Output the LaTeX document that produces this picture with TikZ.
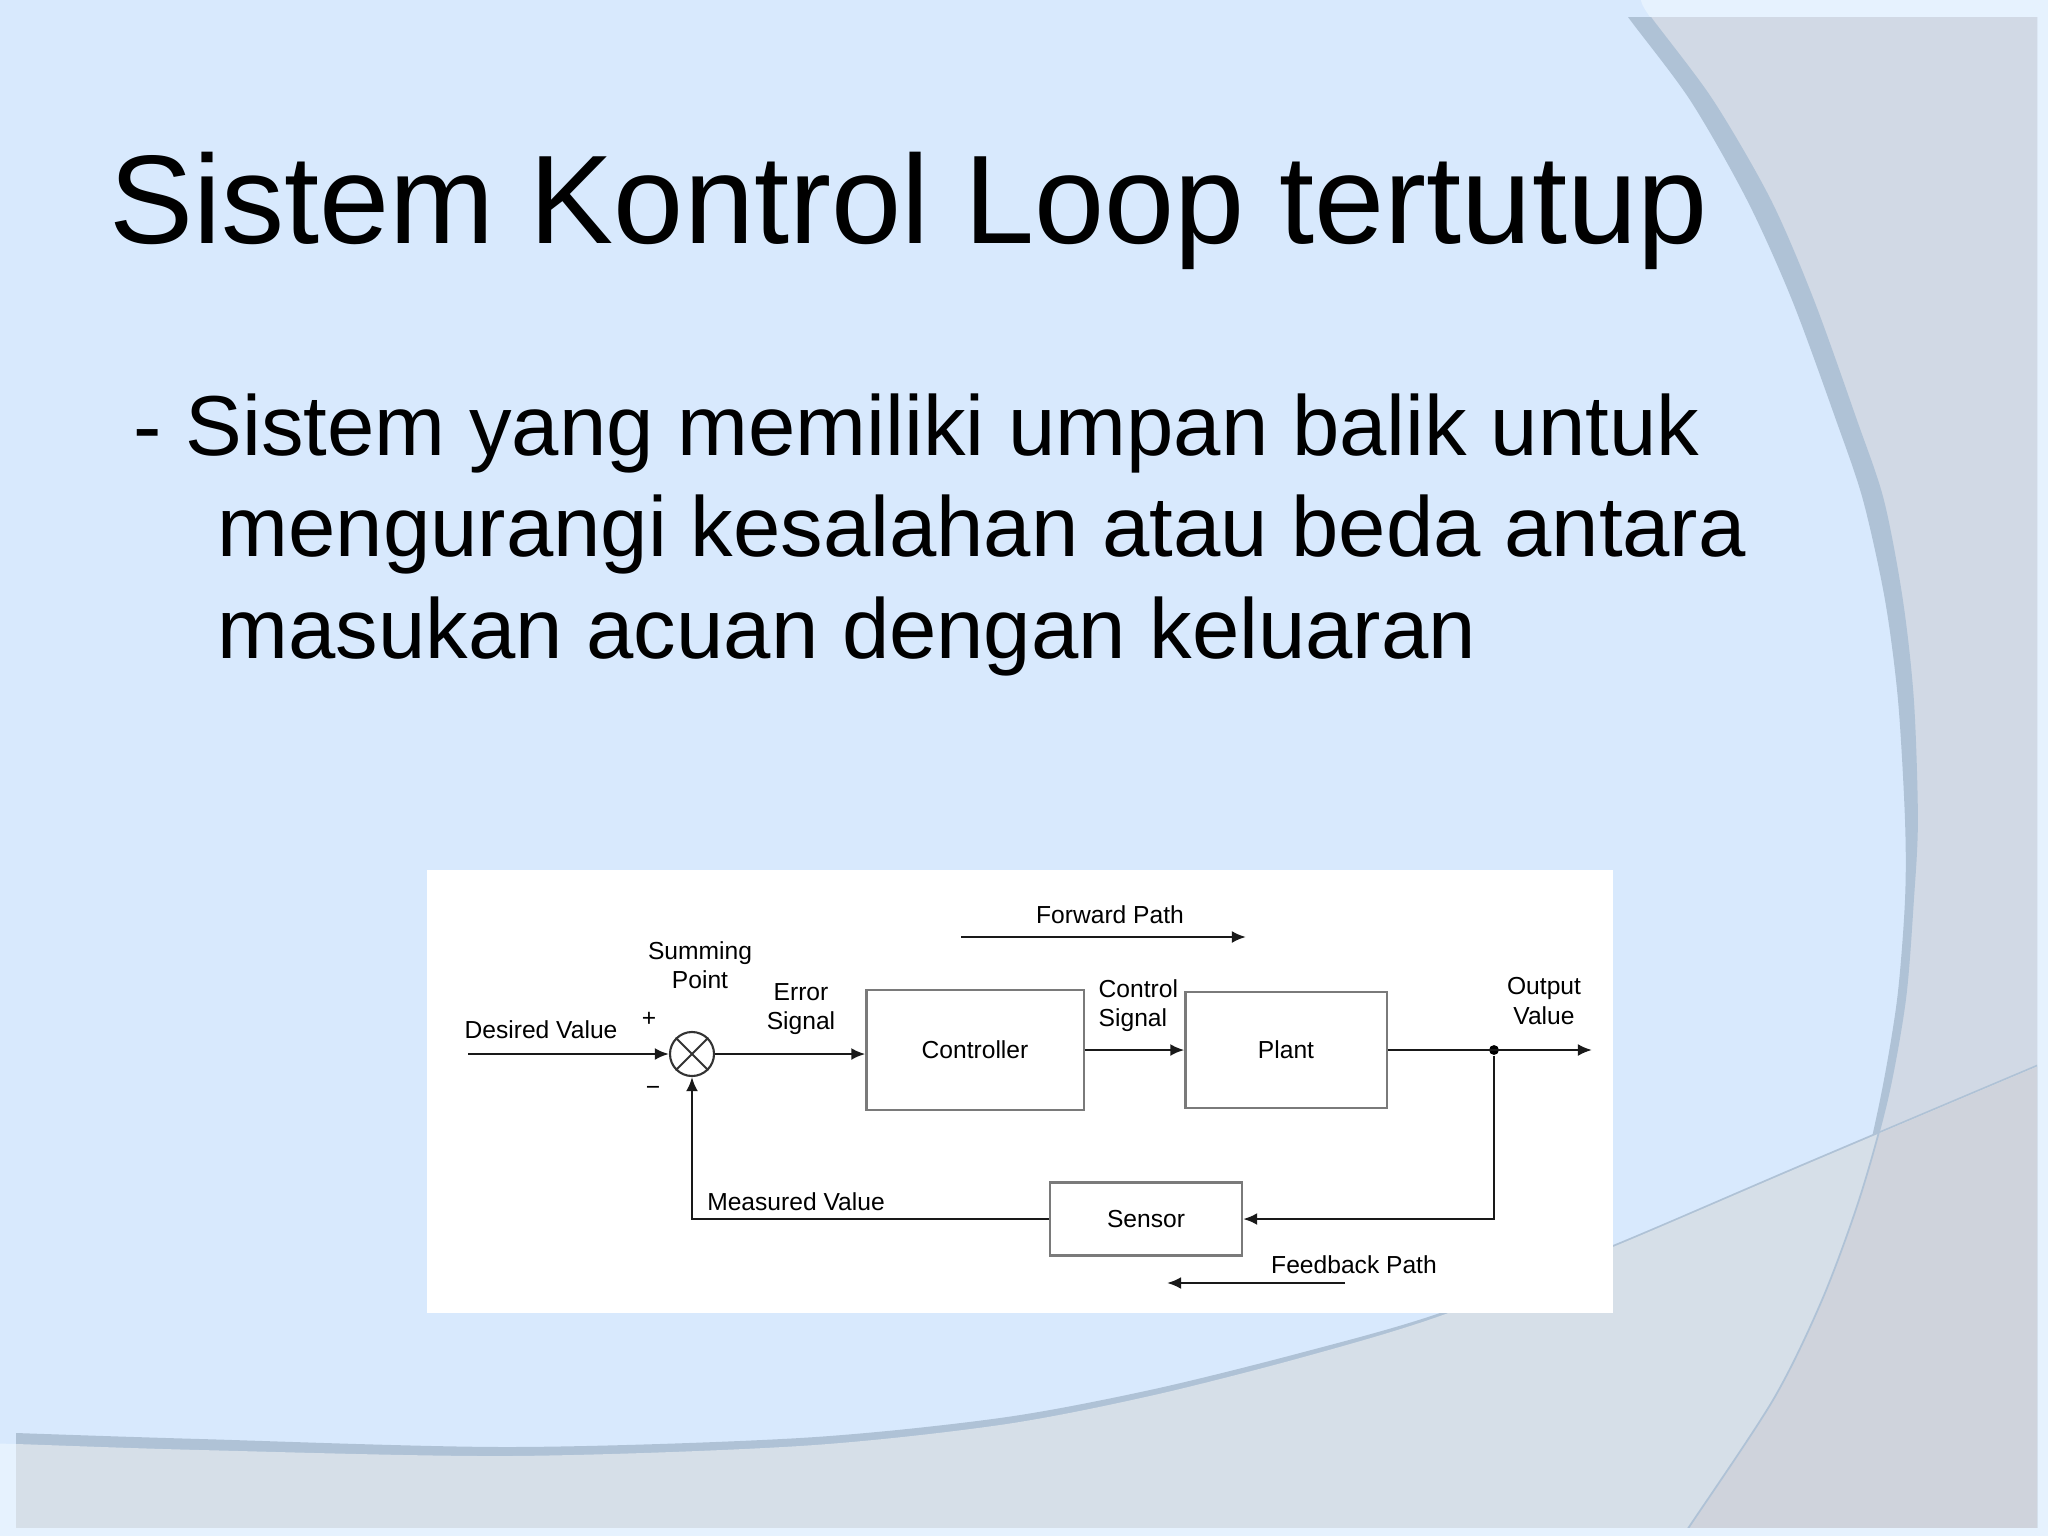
\documentclass[tikz,border=0pt]{standalone}
\usepackage{fontspec}
\setmainfont{Liberation Sans}
\usepackage{tikz}
\usetikzlibrary{arrows.meta}

\definecolor{latar}{HTML}{D8E9FD}
\definecolor{bingkai}{HTML}{E6F2FE}
\definecolor{abukanan}{HTML}{D1D9E5}
\definecolor{abubawah}{HTML}{D6DFE8}
\definecolor{abutumpang}{HTML}{CFD3DC}
\definecolor{pita}{HTML}{AFC2D6}
\definecolor{tepi}{HTML}{7A7A7A}

\newcommand{\judulfont}{\fontsize{35.85}{43}\selectfont}
\newcommand{\isifont}{\fontsize{24.2}{29}\selectfont}
\newcommand{\diagfont}{\fontsize{7}{8.3}\selectfont}

% lengkung kanan: tepi dalam dan tepi luar pita
\newcommand{\kanandalam}{plot[smooth] coordinates {(1619,0) (1628,17) (1690,100) (1747,200) (1792,300) (1836,420) (1863,500) (1885,600) (1898,700) (1905,820) (1905,900) (1897,1000) (1880,1100) (1856,1200) (1820,1300) (1772,1400) (1688,1527) (1682,1536)}}
\newcommand{\kananluar}{plot[smooth] coordinates {(1641,0) (1650,17) (1712,100) (1770,200) (1813,300) (1856,420) (1883,500) (1902,600) (1913,700) (1917,820) (1913,900) (1905,1000) (1887,1100) (1859,1200) (1822,1300) (1773,1400) (1689,1527) (1683,1536)}}
% lengkung bawah: tepi atas dan tepi bawah pita
\newcommand{\bawahatas}{plot[smooth] coordinates {(0,1432) (16,1433) (200,1439) (510,1447) (800,1438) (1000,1418) (1150,1390) (1300,1353) (1440,1313) (1613,1245) (1800,1165) (2048,1060)}}
\newcommand{\bawahbawah}{plot[smooth] coordinates {(0,1444) (16,1444) (200,1450) (510,1456) (800,1446) (1000,1425) (1150,1396) (1300,1358) (1440,1316) (1613,1247) (1800,1167) (2048,1062)}}

\tikzset{
  judul/.style={anchor=base west, inner sep=0pt, font=\judulfont},
  isi/.style={anchor=base west, inner sep=0pt, font=\isifont},
  kotak/.style={draw=tepi, line width=0.6pt, fill=white, font=\diagfont, inner sep=0pt},
  penjumlah/.style={circle, draw=black!80, line width=0.6pt, minimum size=0.44cm, inner sep=0pt},
  silang/.style={line width=0.55pt, draw=black!80},
  titik/.style={circle, fill=black, inner sep=0pt, minimum size=2.8pt},
  panah/.style={->, line width=0.7pt, draw=black!90},
  keterangan/.style={font=\diagfont, inner sep=0pt, align=center},
  >={Latex[length=4pt,width=3.4pt]}
}

\begin{document}
\begin{tikzpicture}[x=0.01cm, y=-0.01cm]
        \useasboundingbox (0,0) rectangle (2048,1536);
        % latar
        \fill[latar] (0,0) rectangle (2048,1536);
        \fill[bingkai] \kananluar -- (2048,1536) -- (2048,0) -- cycle;
        \fill[bingkai] \bawahbawah -- (2048,1536) -- (0,1536) -- cycle;
        \begin{scope}
            \clip (16,17) rectangle (2037,1527);
            % panel kanan
            \fill[pita] \kanandalam -- (2048,1536) -- (2048,0) -- cycle;
            \fill[abukanan] \kananluar -- (2048,1536) -- (2048,0) -- cycle;
            % panel bawah
            \fill[pita] \bawahatas -- (2048,1536) -- (0,1536) -- cycle;
            \fill[abubawah] \bawahbawah -- (2048,1536) -- (0,1536) -- cycle;
            \begin{scope}
                \clip \kananluar -- (2048,1536) -- (2048,0) -- cycle;
                \fill[abutumpang] \bawahbawah -- (2048,1536) -- (0,1536) -- cycle;
            \end{scope}
            \draw[pita, line width=0.5pt] \kananluar;
        \end{scope}
        % judul
        \node[judul] (judul) at (109,243) {Sistem Kontrol Loop tertutup};
        % isi
        \node[isi] (baris1) at (133,455) {- Sistem yang memiliki umpan balik untuk};
        \node[isi] (baris2) at (217,556) {mengurangi kesalahan atau beda antara};
        \node[isi] (baris3) at (217,658) {masukan acuan dengan keluaran};
        % gambar diagram
        \fill[white] (427,870) rectangle (1613,1313);
        % blok
        \node[kotak, minimum width=2.17cm, minimum height=1.2cm] (ctrl) at (975,1050) {Controller};
        \node[kotak, minimum width=2.01cm, minimum height=1.16cm] (plant) at (1286,1050) {Plant};
        \node[kotak, minimum width=1.92cm, minimum height=0.73cm] (sensor) at (1146,1219) {Sensor};
        \node[penjumlah] (sum) at (692,1054) {};
        \draw[silang] (sum.45) -- (sum.225) (sum.135) -- (sum.315);
        \node[titik] (cabang) at (1494,1050) {};
        \coordinate (masuk) at (468,1054);
        \coordinate (keluar) at (1592,1050);
        % sambungan
        \draw[panah] (masuk) -- (sum.west);
        \draw[panah] (sum.east) -- (sum.east -| ctrl.west);
        \draw[panah] (ctrl.east) -- (plant.west);
        \draw[panah] (plant.east) -- (keluar);
        \draw[panah] (cabang) |- (sensor.east);
        \draw[panah] (sensor.west) -| (sum.south);
        % keterangan
        \node[keterangan, anchor=base] (desired) at (541,1038) {Desired Value};
        \node[keterangan] (plus) at (649,1019) {+};
        \node[keterangan] (minus) at (653,1091) {−};
        \node[keterangan] (summing) at (700,965) {Summing\\Point};
        \node[keterangan] (error) at (801,1009) {Error\\Signal};
        \node[keterangan, anchor=west, align=left] (control) at (1098,1006) {Control\\Signal};
        \node[keterangan] (outval) at (1544,1001) {Output\\Value};
        \node[keterangan, anchor=base] (measured) at (796,1210) {Measured Value};
        \node[keterangan, anchor=base] (forward) at (1110,923) {Forward Path};
        \node[keterangan, anchor=base] (feedback) at (1354,1273) {Feedback Path};
        % jalur maju dan balik
        \coordinate (maju1) at (961,937);
        \coordinate (maju2) at (1246,937);
        \draw[panah] (maju1) -- (maju2);
        \coordinate (balik1) at (1345,1283);
        \coordinate (balik2) at (1167,1283);
        \draw[panah] (balik1) -- (balik2);
    \end{tikzpicture}
\end{document}
